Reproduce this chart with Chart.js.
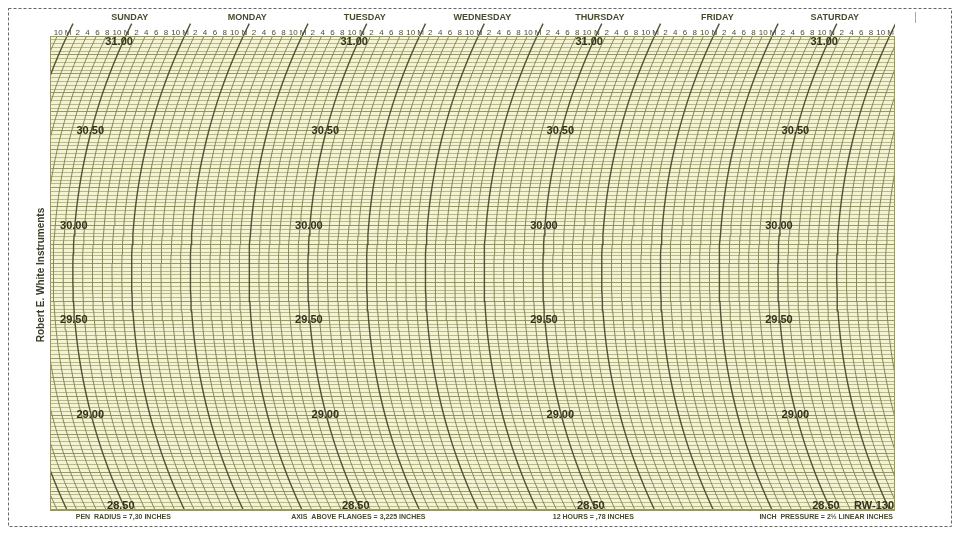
<!DOCTYPE html>
<html><head><meta charset="utf-8">
<script src="https://cdn.jsdelivr.net/npm/chart.js@4"></script>
<style>html,body{margin:0;padding:0;background:#fff}#wrap{width:960px;height:533px;position:relative}</style>
</head><body><div id="wrap"><canvas id="c" width="960" height="533"></canvas></div>
<script>
// ---- chart content ----
const dayNames = ['SUNDAY','MONDAY','TUESDAY','WEDNESDAY','THURSDAY','FRIDAY','SATURDAY'];
const dayNoonHours = [12, 36, 60, 84, 108, 132, 156];
const hourLabels = ['M','2','4','6','8','10','N','2','4','6','8','10'];
const hourTicks = [];               // 2-hour rulings labelled along the top (Sat 10pm .. Sat midnight)
for (let t = -2; t <= 168; t += 2) hourTicks.push(t);
const pressureLabels = [31.00, 30.50, 30.00, 29.50, 29.00, 28.50];
const pressureLabelHours = [12, 60, 108, 156];   // columns: Sunday, Tuesday, Thursday, Saturday noon
const footerNotes = ['PEN  RADIUS = 7,30 INCHES', 'AXIS  ABOVE FLANGES = 3,225 INCHES', '12 HOURS = ,78 INCHES', 'INCH  PRESSURE = 2\u00BD LINEAR INCHES'];
const footerHours = [11.5, 59.5, 107.5, 155];
const sideTitle = 'Robert E. White Instruments';
const chartCode = 'RW-130';

// ---- paper ruling constants (printed on the chart) ----
const P_MIN = 28.5, P_MAX = 31.0, P_STEP = 0.02;
const PEN_RADIUS_IN = 7.30;        // inches
const HOURS_PER_IN = 12 / 0.78;    // 12 hours = ,78 inches
const INHG_PER_IN = 1 / 2.5;       // 1 inch pressure = 2.5 linear inches
const X_MIN = -3.47, X_MAX = 169.1;

const P_MID = (P_MIN + P_MAX) / 2;
const RX = PEN_RADIUS_IN * HOURS_PER_IN;
const RY = PEN_RADIUS_IN * INHG_PER_IN;
function arcX(h, p) {
  const d = Math.sqrt(1 - Math.pow((p - P_MID) / RY, 2));
  const dTop = Math.sqrt(1 - Math.pow((P_MAX - P_MID) / RY, 2));
  return h - RX * (d - dTop);
}

const CREAM = '#f4f4d2';
const LIGHT_H = '#b8b88e';
const MID_H = '#979769';
const ARC = '#87875c';
const DARK = '#525236';
const TEXT = '#33331d';

const datasets = [];
const lightArcs = [], darkArcs = [];
for (let h = -4; h <= 184; h += 2) ((h % 12 === 0) ? darkArcs : lightArcs).push(h);
function arcPoints(h, top) {
  const pts = [];
  for (let i = 0; i <= 50; i++) { const p = P_MIN + i * 0.05; pts.push({x: arcX(h, p), y: p}); }
  if (top > P_MAX) pts.push({x: arcX(h, top), y: top});
  return pts;
}
lightArcs.forEach(h => datasets.push({data: arcPoints(h, P_MAX), showLine: true, borderColor: ARC, borderWidth: 1, pointRadius: 0}));
darkArcs.forEach(h => datasets.push({data: arcPoints(h, 31.065), showLine: true, borderColor: DARK, borderWidth: 1.4, pointRadius: 0,
  clip: {left: 0, top: 16, right: 0, bottom: 0}}));

const paperPlugin = {
  id: 'paper',
  beforeDraw(chart) {
    const {ctx, chartArea: a} = chart;
    ctx.save();
    ctx.fillStyle = '#ffffff';
    ctx.fillRect(0, 0, chart.width, chart.height);
    ctx.fillStyle = CREAM;
    ctx.fillRect(a.left, a.top, a.right - a.left, a.bottom - a.top);
    ctx.restore();
  },
  afterDraw(chart) {
    const {ctx, chartArea: a, scales: {x, y}} = chart;
    ctx.save();
    ctx.strokeStyle = MID_H; ctx.lineWidth = 1;
    ctx.strokeRect(Math.round(a.left) + 0.5, Math.round(a.top) + 0.5, Math.round(a.right - a.left) - 1, Math.round(a.bottom - a.top) - 1);
    // day names
    ctx.fillStyle = '#4a4a30';
    ctx.font = 'bold 9px "Liberation Sans", Arial, sans-serif';
    ctx.textAlign = 'center'; ctx.textBaseline = 'middle';
    dayNames.forEach((d, i) => ctx.fillText(d, x.getPixelForValue(dayNoonHours[i]) + 4, 18));
    // hour labels
    ctx.font = '8px "Liberation Sans", Arial, sans-serif';
    ctx.fillStyle = '#4d4d33';
    ctx.textBaseline = 'alphabetic';
    hourTicks.forEach(t => {
      const lab = hourLabels[((t / 2) % 12 + 12) % 12];
      ctx.fillText(lab, x.getPixelForValue(t) + 1, 35);
    });
    // pressure labels
    ctx.fillStyle = TEXT;
    ctx.font = 'bold 11px "Liberation Sans", Arial, sans-serif';
    pressureLabelHours.forEach(h => {
      pressureLabels.forEach(p => {
        let py = p, dx = -1;
        if (p === P_MAX) { py = p - 0.03; dx = -4; }
        if (p === P_MIN) { py = p + 0.022; dx = -3; }
        ctx.textBaseline = 'middle';
        ctx.fillText(p.toFixed(2), x.getPixelForValue(arcX(h, py)) + dx, y.getPixelForValue(py));
      });
    });
    // footer notes
    ctx.font = 'bold 7px "Liberation Sans", Arial, sans-serif';
    ctx.fillStyle = '#4a4a30';
    ctx.textBaseline = 'middle';
    footerNotes.forEach((n, i) => {
      if (i === footerNotes.length - 1) { ctx.textAlign = 'right'; ctx.fillText(n, a.right - 2, 517); }
      else { ctx.textAlign = 'center'; ctx.fillText(n, x.getPixelForValue(footerHours[i]), 517); }
    });
    // code
    ctx.font = 'bold 11px "Liberation Sans", Arial, sans-serif';
    ctx.fillStyle = TEXT; ctx.textAlign = 'right';
    ctx.fillText(chartCode, a.right - 1, y.getPixelForValue(P_MIN + 0.022));
    // side title
    ctx.save();
    ctx.translate(41, 275); ctx.rotate(-Math.PI / 2);
    ctx.textAlign = 'center'; ctx.font = 'bold 10px "Liberation Sans", Arial, sans-serif';
    ctx.fillStyle = '#3a3a28';
    ctx.fillText(sideTitle, 0, 0);
    ctx.restore();
    // frame of the scan
    ctx.strokeStyle = '#666'; ctx.lineWidth = 1; ctx.setLineDash([3, 2]);
    ctx.strokeRect(8.5, 8.5, 943, 518);
    ctx.setLineDash([]);
    ctx.strokeStyle = '#aaa';
    ctx.beginPath(); ctx.moveTo(915.5, 12); ctx.lineTo(915.5, 23); ctx.stroke();
    ctx.restore();
  }
};

new Chart(document.getElementById('c'), {
  type: 'scatter',
  data: {datasets},
  options: {
    responsive: false, animation: false, devicePixelRatio: 1,
    layout: {padding: {left: 50, right: 65, top: 36, bottom: 23}},
    plugins: {legend: {display: false}, tooltip: {enabled: false}},
    elements: {point: {radius: 0}, line: {tension: 0}},
    scales: {
      x: {type: 'linear', min: X_MIN, max: X_MAX, display: false},
      y: {type: 'linear', min: P_MIN, max: P_MAX,
          ticks: {display: false, stepSize: P_STEP, maxTicksLimit: 1000},
          grid: {drawTicks: false, lineWidth: 1,
                 color: c => (Math.round(c.tick.value * 50) % 5 === 0) ? MID_H : LIGHT_H},
          border: {display: false}}
    }
  },
  plugins: [paperPlugin]
});
</script></body></html>
